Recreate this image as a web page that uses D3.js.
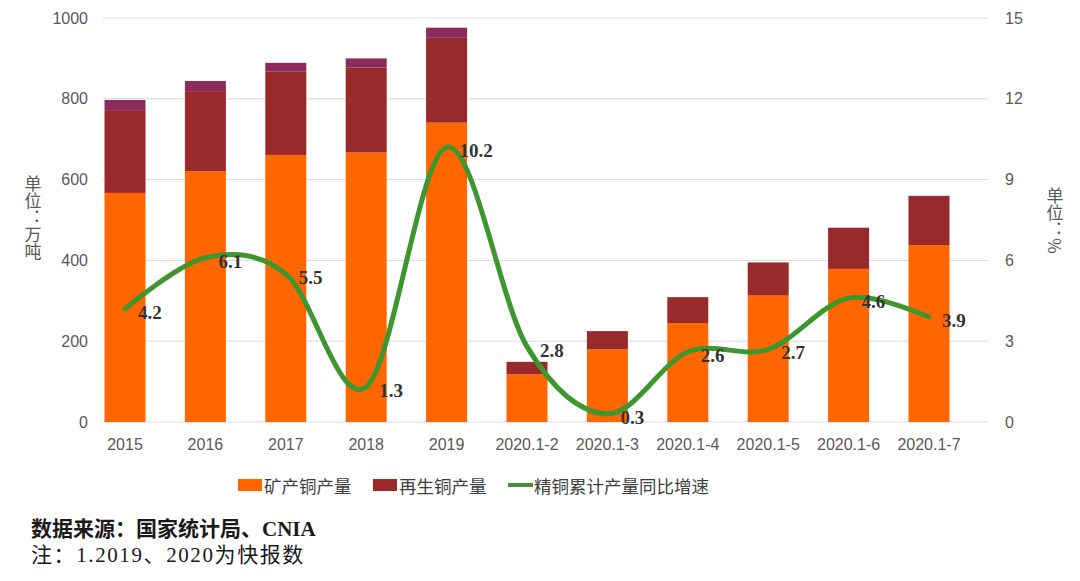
<!DOCTYPE html>
<html>
<head>
<meta charset="utf-8">
<script src="https://cdn.jsdelivr.net/npm/d3@7"></script>
<style>
  body { margin: 0; background: #fff; }
  svg { display: block; }
</style>
</head>
<body>
<svg id="chart" width="1080" height="581"></svg>
<script>
// categories and values
const categories = ["2015", "2016", "2017", "2018", "2019", "2020.1-2", "2020.1-3", "2020.1-4", "2020.1-5", "2020.1-6", "2020.1-7"];
const mineCopper = [567, 621, 661, 667, 741, 118, 180, 245, 313, 379, 438];   // 矿产铜产量
const scrapCopper = [205, 198, 206, 210, 210, 31, 45, 64, 82, 102, 119];     // 再生铜产量
const otherCopper = [25, 25, 22, 23, 25, 0, 0, 0, 0, 0, 3];                  // unnamed top slice
const growth = [4.2, 6.1, 5.5, 1.3, 10.2, 2.8, 0.3, 2.6, 2.7, 4.6, 3.9];     // 精铜累计产量同比增速
const leftTicks = [0, 200, 400, 600, 800, 1000];
const rightTicks = [0, 3, 6, 9, 12, 15];

const svg = d3.select("#chart");
const plotTop = 18, plotBottom = 422;
const gridLeft = 103, gridRight = 988;

const x = d3.scaleBand()
    .domain(categories)
    .range([84.8, 969.2])
    .paddingInner(0.49)
    .paddingOuter(0.245);
const yLeft = d3.scaleLinear().domain([0, 1000]).range([plotBottom, plotTop]);
const yRight = d3.scaleLinear().domain([0, 15]).range([plotBottom, plotTop]);
const cx = d => x(d) + x.bandwidth() / 2;

// gridlines
svg.append("g")
    .selectAll("line")
    .data(leftTicks)
    .enter().append("line")
    .attr("x1", gridLeft).attr("x2", gridRight)
    .attr("y1", d => yLeft(d)).attr("y2", d => yLeft(d))
    .style("stroke", "#d9d9d9")
    .style("stroke-width", 1);

// left axis
const leftAxis = svg.append("g")
    .attr("transform", `translate(${gridLeft - 15},0)`)
    .call(d3.axisLeft(yLeft).tickValues(leftTicks).tickFormat(d3.format("d")).tickSize(0).tickPadding(0));
leftAxis.select(".domain").remove();
leftAxis.selectAll("text")
    .style("font-family", "'Liberation Sans', Arial, sans-serif")
    .style("font-size", "16px")
    .style("fill", "#595959");

// right axis
const rightAxis = svg.append("g")
    .attr("transform", `translate(${gridRight + 17},0)`)
    .call(d3.axisRight(yRight).tickValues(rightTicks).tickSize(0).tickPadding(0));
rightAxis.select(".domain").remove();
rightAxis.selectAll("text")
    .style("font-family", "'Liberation Sans', Arial, sans-serif")
    .style("font-size", "16px")
    .style("fill", "#595959");

// bottom axis labels
const bottomAxis = svg.append("g")
    .attr("transform", `translate(0,${plotBottom + 17})`)
    .call(d3.axisBottom(x).tickSize(0).tickPadding(0));
bottomAxis.select(".domain").remove();
bottomAxis.selectAll("text")
    .attr("dy", "0.71em")
    .style("font-family", "'Liberation Sans', Arial, sans-serif")
    .style("font-size", "16px")
    .style("fill", "#595959");

// stacked bars
const rows = categories.map((c, i) => ({ cat: c, mine: mineCopper[i], scrap: scrapCopper[i], other: otherCopper[i] }));
const stack = d3.stack().keys(["mine", "scrap", "other"]);
const series = stack(rows);
const barColors = { mine: "#ff6600", scrap: "#992a2c", other: "#8c2c5e" };

svg.append("g")
    .selectAll("g")
    .data(series)
    .enter().append("g")
    .style("fill", d => barColors[d.key])
    .selectAll("rect")
    .data(d => d)
    .enter().append("rect")
    .attr("x", d => x(d.data.cat))
    .attr("y", d => yLeft(d[1]))
    .attr("width", x.bandwidth())
    .attr("height", d => Math.max(0, yLeft(d[0]) - yLeft(d[1])));

// smoothed growth line
const line = d3.line()
    .x((d, i) => cx(categories[i]))
    .y(d => yRight(d))
    .curve(d3.curveCardinal.tension(0));

svg.append("path")
    .datum(growth)
    .attr("d", line)
    .style("fill", "none")
    .style("stroke", "#3d962e")
    .style("stroke-width", 5)
    .style("stroke-linecap", "round");

// data labels
svg.append("g")
    .selectAll("text")
    .data(growth)
    .enter().append("text")
    .attr("x", (d, i) => cx(categories[i]) + 13)
    .attr("y", d => yRight(d) + 10)
    .style("font-family", "'Liberation Serif', 'Times New Roman', serif")
    .style("font-weight", "bold")
    .style("font-size", "19px")
    .style("fill", "#333")
    .text(d => d.toFixed(1));

// vertical unit titles
function verticalTitle(label, xPos, yStart) {
    svg.append("text")
        .attr("x", xPos)
        .attr("y", yStart)
        .style("writing-mode", "vertical-rl")
        .style("text-orientation", "mixed")
        .style("font-family", "'Noto Sans CJK SC', sans-serif")
        .style("font-size", "17px")
        .style("fill", "#595959")
        .text(label);
}
verticalTitle("单位：万吨", 33, 175);
verticalTitle("单位：%", 1055, 187);

// legend
const legendItems = [
    { label: "矿产铜产量", color: barColors.mine, type: "rect", x: 238 },
    { label: "再生铜产量", color: barColors.scrap, type: "rect", x: 373 },
    { label: "精铜累计产量同比增速", color: "#3d962e", type: "line", x: 508 }
];
const legendY = 485;
const legend = svg.append("g");
legendItems.forEach(item => {
    if (item.type === "rect") {
        legend.append("rect")
            .attr("x", item.x).attr("y", legendY - 6)
            .attr("width", 24).attr("height", 12)
            .style("fill", item.color);
    } else {
        legend.append("line")
            .attr("x1", item.x).attr("x2", item.x + 25)
            .attr("y1", legendY).attr("y2", legendY)
            .style("stroke", item.color)
            .style("stroke-width", 4);
    }
    legend.append("text")
        .attr("x", item.x + 26)
        .attr("y", legendY)
        .attr("dominant-baseline", "central")
        .style("font-family", "'Noto Sans CJK SC', sans-serif")
        .style("font-size", "17.5px")
        .style("fill", "#404040")
        .text(item.label);
});

// source notes
svg.append("text")
    .attr("x", 31).attr("y", 536)
    .style("font-family", "'Liberation Serif', 'Noto Sans CJK SC', serif")
    .style("font-weight", "bold")
    .style("font-size", "21px")
    .style("fill", "#1a1a1a")
    .text("数据来源：国家统计局、CNIA");
svg.append("text")
    .attr("x", 31).attr("y", 562)
    .style("font-family", "'Liberation Serif', 'Noto Sans CJK SC', serif")
    .style("font-size", "21px")
    .style("letter-spacing", "1.6px")
    .style("fill", "#1a1a1a")
    .text("注：1.2019、2020为快报数");
</script>
</body>
</html>
